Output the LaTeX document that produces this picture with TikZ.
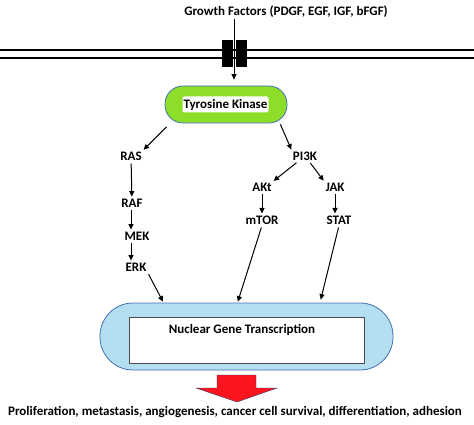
\documentclass[tikz,border=0pt]{standalone}
\usepackage{fontspec}
\setmainfont{Carlito}
\usepackage{tikz}
\usetikzlibrary{arrows.meta, positioning, calc}
\definecolor{kinasegreen}{RGB}{140, 222, 40}
\definecolor{edgeblue}{RGB}{70, 110, 180}
\definecolor{nucleusblue}{RGB}{180, 223, 240}
\definecolor{outred}{RGB}{250, 20, 30}

\begin{document}
\begin{tikzpicture}[
    x=1pt, y=-1pt,
    label/.style={font=\fontsize{13}{15}\selectfont\bfseries, inner sep=1pt},
    link/.style={-{Triangle[length=5.5pt, width=5pt]}, line width=1pt, shorten >=1pt, shorten <=2pt},
    membrane/.style={line width=1.3pt},
    receptor/.style={fill=black, draw=black, minimum width=10pt, minimum height=26pt, inner sep=0pt}
]
    \useasboundingbox (0,0) rectangle (474,425);

    % Membrane and receptor
    \draw[membrane] (0,50) -- (474,50);
    \draw[membrane] (0,58) -- (474,58);
    \node[receptor] (recleft) at (227,53) {};
    \node[receptor] (recright) at (241,53) {};
    \coordinate (rec) at (234,53);

    % Ligands
    \node[label] (gf) at (286,12) {Growth Factors (PDGF, EGF, IGF, bFGF)};

    % Tyrosine kinase
    \node[draw=edgeblue, fill=kinasegreen, line width=0.8pt, rounded corners=18pt,
          minimum width=122pt, minimum height=37pt] (tk) at (226,104.5) {};
    \node[fill=white, rounded corners=2pt, minimum width=86pt, minimum height=16pt,
          label, inner sep=0pt] (tklabel) at (225.5,104.5) {Tyrosine Kinase};

    % RAS pathway
    \node[label] (ras) at (131,156) {RAS};
    \node[label] (raf) at (132,203) {RAF};
    \node[label] (mek) at (137,236) {MEK};
    \node[label] (erk) at (136,267) {ERK};

    % PI3K pathway
    \node[label] (pi3k) at (305,156) {PI3K};
    \node[label] (akt) at (262,187) {AKt};
    \node[label] (mtor) at (262,220) {mTOR};
    \node[label] (jak) at (335,187) {JAK};
    \node[label] (stat) at (339,220) {STAT};

    % Nucleus
    \node[draw=edgeblue, fill=nucleusblue, line width=0.8pt, rounded corners=33pt,
          minimum width=293pt, minimum height=67pt] (nuc) at (246.5,336.5) {};
    \node[draw=black!70, fill=white, line width=0.6pt, minimum width=235pt,
          minimum height=46pt] (nucbox) at (246.5,340) {};
    \node[label] (nuclabel) at (242,330) {Nuclear Gene Transcription};

    % Outcome
    \node[label] (out) at (235,412)
        {Proliferation, metastasis, angiogenesis, cancer cell survival, differentiation, adhesion};
    \draw[draw=edgeblue!60!black, fill=outred, line width=0.4pt]
        (217,375) -- (256,375) -- (256,388) -- (277,388) -- (237,402)
        -- (196,388) -- (217,388) -- cycle;

    % Signalling
    \draw[link, shorten <=0pt, shorten >=6pt] (gf.south -| rec) -- (rec |- tk.north);
    \draw[link, shorten <=5pt] ([xshift=-56pt]tk.south) -- (ras.north east);
    \draw[link, shorten <=1pt] ([xshift=54pt]tk.south) -- (pi3k.north west);
    \draw[link] (ras) -- (raf);
    \draw[link] (raf.south -| ras) -- (ras |- mek.north);
    \draw[link] (mek.south -| ras) -- (ras |- erk.north);
    \draw[link] (pi3k) -- (akt.north east);
    \draw[link] (pi3k) -- (jak.north west);
    \draw[link] (akt) -- (mtor);
    \draw[link] (jak) -- (jak |- stat.north);
    \draw[link] (erk.south east) -- ([xshift=-83pt]nuc.north);
    \draw[link] (mtor.south) -- ([xshift=-9pt]nuc.north);
    \draw[link] (stat.south) -- ([xshift=74pt,yshift=2pt]nuc.north);
\end{tikzpicture}
\end{document}
